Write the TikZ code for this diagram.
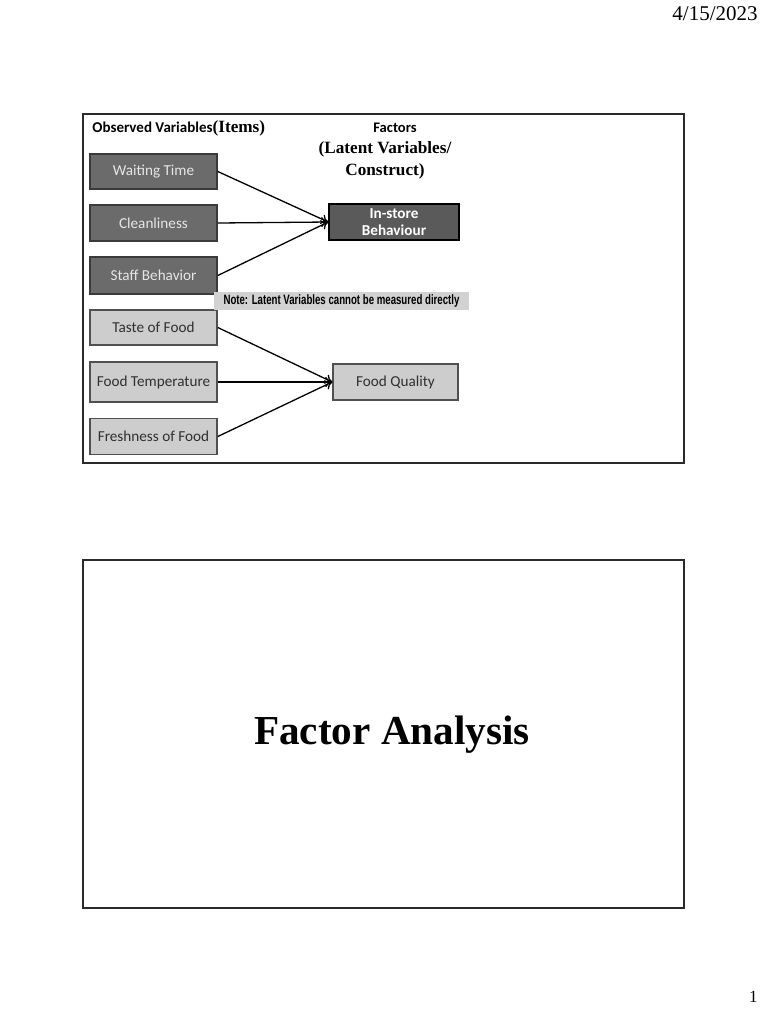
\documentclass[tikz,border=0pt]{standalone}
\usepackage{fontspec}
\usepackage{graphicx}
\setmainfont{Liberation Serif}
\newfontfamily\calfont{Carlito}
\newfontfamily\narrowfont{Liberation Sans}
\usetikzlibrary{arrows.meta}
\definecolor{darkfill}{HTML}{6B6B6B}
\definecolor{darkedge}{HTML}{3A3A3A}
\definecolor{darktext}{HTML}{E6E6E6}
\definecolor{lightfill}{HTML}{CDCDCD}
\definecolor{lightedge}{HTML}{505050}
\definecolor{lighttext}{HTML}{303030}
\definecolor{factfill}{HTML}{5A5A5A}
\definecolor{notefill}{HTML}{D2D2D2}
\definecolor{framecol}{HTML}{2A2A2A}
\tikzset{
  itembox/.style={draw=darkedge, line width=0.8pt, fill=darkfill, text=darktext,
    minimum width=127*0.5pt, inner sep=0pt,
    font=\calfont\fontsize{7.6pt}{9pt}\selectfont},
  lightbox/.style={draw=lightedge, line width=0.8pt, fill=lightfill, text=lighttext,
    minimum width=127*0.5pt, inner sep=0pt,
    font=\calfont\fontsize{7.6pt}{9pt}\selectfont},
  factbox/.style={draw=black, line width=0.8pt, fill=factfill, text=white,
    minimum width=130*0.5pt, minimum height=36*0.5pt, inner sep=0pt, align=center,
    font=\calfont\bfseries\fontsize{7.6pt}{8.2pt}\selectfont},
  lightfact/.style={lightbox, minimum width=125*0.5pt, minimum height=36*0.5pt},
  conn/.style={line width=0.65pt, black, -{To[length=3.5pt,width=5pt]}},
  slideframe/.style={draw=framecol, line width=0.7pt},
}
\begin{document}
\begin{tikzpicture}[x=0.5pt,y=-0.5pt]
\useasboundingbox (0,0) rectangle (768,1024);
% date and page number
\node[anchor=base east, inner sep=0pt, font=\fontsize{10.5pt}{12pt}\selectfont] (date) at (758,20) {4/15/2023};
\node[anchor=base east, inner sep=0pt, font=\fontsize{8.5pt}{10pt}\selectfont] (page) at (758,1002) {1};
% top slide frame
\draw[slideframe] (83,114) rectangle (684,463);
% headers
\node[anchor=base west, inner sep=0pt] (hobs) at (92,132)
  {\calfont\bfseries\fontsize{7.5pt}{9pt}\selectfont Observed Variables\rmfamily\fontsize{8.6pt}{9pt}\selectfont(Items)};
\node[anchor=base, inner sep=0pt, font=\calfont\bfseries\fontsize{7.3pt}{9pt}\selectfont] (hfac) at (395,132) {Factors};
\node[anchor=base, inner sep=0pt, font=\bfseries\fontsize{8.6pt}{10pt}\selectfont] (hlat) at (385,153) {(Latent Variables/};
\node[anchor=base, inner sep=0pt, font=\bfseries\fontsize{8.6pt}{10pt}\selectfont] (hcon) at (385,175) {Construct)};
% observed variables
\node[itembox, minimum height=35*0.5pt] (wait) at (153.5,171.5) {Waiting Time};
\node[itembox, minimum height=36*0.5pt] (clean) at (153.5,223) {Cleanliness};
\node[itembox, minimum height=37*0.5pt] (staff) at (153.5,275.5) {Staff Behavior};
\node[lightbox, minimum height=35*0.5pt] (taste) at (153.5,327.5) {Taste of Food};
\node[lightbox, minimum height=40*0.5pt] (temp) at (153.5,382) {Food Temperature};
\node[lightbox, minimum height=36*0.5pt] (fresh) at (153.5,436.5) {Freshness of Food};
% factors
\node[factbox] (instore) at (394,222) {In-store\\Behaviour};
\node[lightfact] (quality) at (395.5,382) {Food Quality};
% note
\node[fill=notefill, minimum width=255*0.5pt, minimum height=18*0.5pt, inner sep=0pt] (note) at (341.5,301)
  {\scalebox{0.71}[1]{\narrowfont\bfseries\fontsize{6.8pt}{7pt}\selectfont Note: Latent Variables cannot be measured directly}};
% connectors
\draw[conn] (wait.east) -- (instore.west);
\draw[conn] (clean.east) -- (instore.west);
\draw[conn] (staff.east) -- (instore.west);
\draw[conn] (taste.east) -- (quality.west);
\draw[conn] (temp.east) -- (quality.west);
\draw[conn] (fresh.east) -- (quality.west);
% bottom slide
\draw[draw=framecol, line width=1.1pt] (83,560) rectangle (684,908);
\node[anchor=base, inner sep=0pt, font=\bfseries\fontsize{20.6pt}{24pt}\selectfont] (title) at (392,744) {Factor Analysis};
\end{tikzpicture}
\end{document}
